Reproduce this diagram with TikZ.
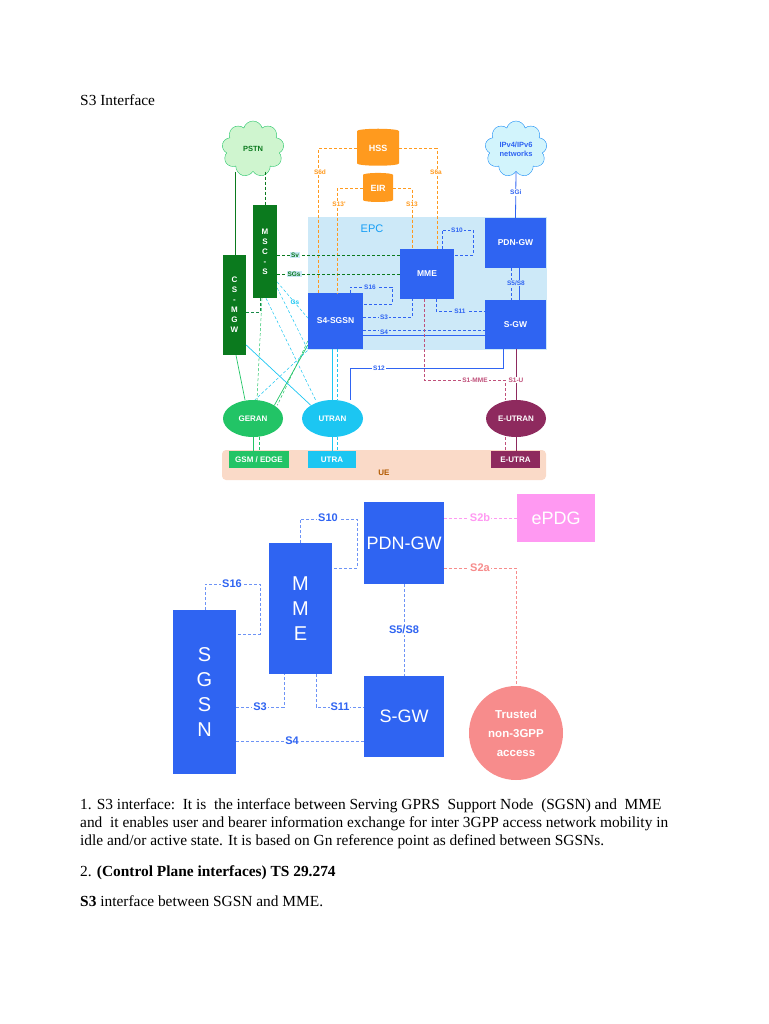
\documentclass[tikz,border=0pt]{standalone}
\usepackage{fontspec}
\setmainfont{Liberation Serif}
\newfontfamily\arl{Liberation Sans}
\usetikzlibrary{shapes.geometric,shapes.symbols,calc}
\definecolor{bl}{HTML}{2F64F2}
\definecolor{dg}{HTML}{0B7A1E}
\definecolor{lgr}{HTML}{CFF5CF}
\definecolor{org}{HTML}{FF9A1E}
\definecolor{epc}{HTML}{CDE9F8}
\definecolor{ger}{HTML}{22C466}
\definecolor{utr}{HTML}{1CC6F2}
\definecolor{eut}{HTML}{8E2A5E}
\definecolor{ue}{HTML}{FADAC8}
\definecolor{pk}{HTML}{FF99F2}
\definecolor{sal}{HTML}{F78C8C}
\definecolor{mg}{HTML}{C0507A}
\begin{document}
\begin{tikzpicture}[x=1pt,y=-1pt,
 box/.style={fill=bl,draw=none,text=white,font=\arl\bfseries\fontsize{8.5}{9}\selectfont,align=center,inner sep=0pt},
 gbox/.style={fill=dg,draw=none,text=white,font=\arl\bfseries\fontsize{8}{10}\selectfont,align=center,inner sep=0pt},
 big/.style={fill=bl,draw=none,text=white,font=\arl\fontsize{18}{21}\selectfont,align=center,inner sep=0pt},
 lab/.style={font=\arl\bfseries\fontsize{6.5}{7}\selectfont,fill=white,inner sep=1pt},
 elab/.style={font=\arl\bfseries\fontsize{6.5}{7}\selectfont,fill=epc,inner sep=1pt},
 blab/.style={font=\arl\bfseries\fontsize{11}{12}\selectfont,fill=white,inner sep=1pt,text=bl},
 sm/.style={text=white,font=\arl\bfseries\fontsize{8}{9}\selectfont,inner sep=0pt},
 dsh/.style={densely dashed,line width=0.5pt},
 body/.style={font=\fontsize{15.4}{18}\selectfont,anchor=base west,inner sep=0pt}]
\useasboundingbox (0,0) rectangle (768,1024);
% ---------- text ----------
\node[body] (title) at (80,106) {S3 Interface};
\node[body] (p1) at (80,809) {1. S3 interface:\ \ It is\ \ the interface between Serving GPRS\ \ Support Node\ \ (SGSN) and\ \ MME};
\node[body] (p2) at (80,827) {and\ \ it enables user and bearer information exchange for inter 3GPP access network mobility in};
\node[body] (p3) at (80,845) {idle and/or active state. It is based on Gn reference point as defined between SGSNs.};
\node[body] (p4) at (80,876) {2. \textbf{(Control Plane interfaces) TS 29.274}};
\node[body] (p5) at (80,906) {\textbf{S3} interface between SGSN and MME.};
% ---------- top diagram ----------
\node[fill=epc,minimum width=239pt,minimum height=133pt,inner sep=0pt] (epcbg) at (427.5,283.5) {};
\node[text=utr!80!blue,font=\arl\fontsize{11}{12}\selectfont] (epcl) at (372,229) {EPC};
\node[fill=ue,rounded corners=4pt,minimum width=324pt,minimum height=30pt,inner sep=0pt] (ue) at (384,465) {};
\node[text=orange!70!black,font=\arl\bfseries\fontsize{8}{8}\selectfont] (uel) at (384,473) {UE};
\node[cloud,cloud puffs=9,aspect=1.1,draw=ger,fill=lgr,minimum width=62pt,minimum height=56pt,font=\arl\bfseries\fontsize{7.5}{8}\selectfont,text=dg] (pstn) at (253,149) {PSTN};
\node[cloud,cloud puffs=9,aspect=1.1,draw=utr!70!blue,fill=utr!20,minimum width=62pt,minimum height=56pt,font=\arl\bfseries\fontsize{7.5}{9}\selectfont,text=bl,align=center,inner sep=0pt] (ipn) at (516,149) {IPv4/IPv6\\networks};
\node[cylinder,shape border rotate=90,aspect=0.25,fill=org,draw=none,minimum width=42pt,minimum height=37pt,sm,font=\arl\bfseries\fontsize{9}{9}\selectfont] (hss) at (378,148.5) {HSS};
\node[cylinder,shape border rotate=90,aspect=0.25,fill=org,draw=none,minimum width=30pt,minimum height=29pt,sm,font=\arl\bfseries\fontsize{9}{9}\selectfont] (eir) at (378,188.5) {EIR};
\node[box,minimum width=61pt,minimum height=50pt] (pdn) at (515.5,243) {PDN-GW};
\node[box,minimum width=54pt,minimum height=50pt] (mme) at (427,274) {MME};
\node[box,minimum width=61pt,minimum height=49pt] (sgw) at (515.5,324.5) {S-GW};
\node[box,minimum width=55pt,minimum height=56pt] (s4) at (335.5,321) {S4-SGSN};
\node[gbox,minimum width=24pt,minimum height=93pt] (msc) at (265,251.5) {M\\S\\C\\-\\S};
\node[gbox,minimum width=23pt,minimum height=100pt] (mgw) at (234.5,305) {C\\S\\-\\M\\G\\W};
\node[ellipse,fill=ger,minimum width=60pt,minimum height=37pt,sm] (geran) at (253,418.5) {GERAN};
\node[ellipse,fill=utr,minimum width=61pt,minimum height=37pt,sm] (utran) at (332.5,418.5) {UTRAN};
\node[ellipse,fill=eut,minimum width=60pt,minimum height=37pt,sm] (eutran) at (516,418.5) {E-UTRAN};
\node[fill=ger,minimum width=60pt,minimum height=17pt,sm] (gsm) at (259,459.5) {GSM / EDGE};
\node[fill=utr,minimum width=48pt,minimum height=17pt,sm] (utra) at (332,459.5) {UTRA};
\node[fill=eut,minimum width=49pt,minimum height=17pt,sm] (eutra) at (515.5,459.5) {E-UTRA};
% orange
\draw[org,dsh] (hss.west) -| (s4.north -| 318,0);
\node[lab,text=org] (s6d) at (320,172) {S6d};
\draw[org,dsh] (hss.east) -| (mme.north -| 437,0);
\node[lab,text=org] (s6a) at (436,172) {S6a};
\draw[org,dsh] (eir.west) -| (s4.north -| 337,0);
\node[lab,text=org] (s13p) at (339,204) {S13'};
\draw[org,dsh] (eir.east) -| (mme.north -| 412,0);
\node[lab,text=org] (s13) at (412,204) {S13};
% green
\draw[dg,line width=0.7pt] (pstn.south -| 235,0) -- (mgw.north -| 235,0);
\draw[dg,dsh] (pstn.south -| 265,0) -- (msc.north);
\draw[dg,dsh] (msc.east |- 0,255) -- (mme.west |- 0,255);
\node[lab,text=dg,fill=epc] (svl) at (295,255) {Sv};
\draw[dg,dsh] (msc.east |- 0,274) -- (mme.west |- 0,274);
\node[lab,text=dg,fill=epc] (sgsl) at (294,274) {SGs};
\draw[ger!70!black,dsh] (mgw.east |- 0,312) -| (msc.south -| 260,0);
\draw[ger,line width=0.7pt] (mgw.south -| 236,0) -- (geran.north -| 245,0);
\draw[ger,dsh] (msc.south -| 262,0) -- (geran.north -| 257,0);
\draw[ger,line width=0.7pt] (s4.west |- 0,345) -- (geran.north east);
\draw[ger,dsh] (s4.west |- 0,341) -- ([xshift=3pt]geran.north east);
% cyan
\draw[utr,line width=0.7pt] (mgw.east |- 0,345) -- (utran.north west);
\draw[utr,dsh] (msc.south -| 266,0) -- ([xshift=-17pt]utran.north);
\draw[utr,dsh] (msc.east |- 0,282) -- (s4.west |- 0,318);
\node[font=\arl\bfseries\fontsize{6.5}{7}\selectfont,text=utr] (gsl) at (295,302) {Gs};
\draw[utr,dsh] (msc.east |- 0,288) -- (308,350) -- ([xshift=2pt]geran.north);
\draw[utr,line width=0.8pt] (s4.south -| 332,0) -- (utran.north -| 332,0);
\draw[utr,dsh] (s4.south -| 337,0) -- (utran.north -| 337,0);
\draw[utr,line width=0.8pt] (utran.south -| 332,0) -- (utra.north -| 332,0);
\draw[utr,dsh] (utran.south -| 337,0) -- (utra.north -| 337,0);
\draw[ger,line width=0.8pt] (geran.south -| 253,0) -- (gsm.north -| 253,0);
\draw[ger,dsh] (geran.south -| 259,0) -- (gsm.north -| 259,0);
% blue
\draw[bl,line width=0.8pt] (ipn.south) -- (pdn.north) node[pos=0.45,lab,text=bl]{SGi};
\draw[bl,dsh] (mme.north -| 442,0) |- (473,230) |- (mme.east |- 0,255);
\node[elab,text=bl] (s10l) at (457,230) {S10};
\draw[bl,dsh] (pdn.south -| 511,0) -- (sgw.north -| 511,0);
\draw[bl,line width=0.8pt] (pdn.south -| 519,0) -- (sgw.north -| 519,0);
\node[elab,text=bl] (s58) at (516,283) {S5/S8};
\draw[bl,dsh] (s4.north -| 350,0) |- (392,287) |- (s4.east |- 0,304);
\node[elab,text=bl] (s16l) at (370,287) {S16};
\draw[bl,dsh] (s4.east |- 0,317) -| (mme.south -| 412,0);
\node[elab,text=bl] (s3l) at (384,317) {S3};
\draw[bl,dsh] (mme.south -| 436,0) |- (sgw.west |- 0,311);
\node[elab,text=bl] (s11l) at (460,311) {S11};
\draw[bl,dsh] (s4.east |- 0,330) -- (sgw.west |- 0,330);
\draw[bl,line width=0.8pt] (s4.east |- 0,335) -- (sgw.west |- 0,335);
\node[elab,text=bl] (s4l) at (384,332) {S4};
\draw[bl,line width=0.8pt] (sgw.south -| 503,0) |- (350,368) -- (utran.north -| 350,0);
\node[lab,text=bl] (s12l) at (379,368) {S12};
% magenta
\draw[mg,dsh] (mme.south -| 424,0) |- (505,380) -- (eutran.north -| 505,0);
\draw[mg,dsh] (eutran.south -| 505,0) -- (eutra.north -| 505,0);
\node[lab,text=mg] (s1m) at (475,380) {S1-MME};
\draw[eut,line width=1pt] (sgw.south -| 516,0) -- (eutran.north);
\node[lab,text=mg] (s1u) at (516,380) {S1-U};
\draw[eut,line width=1pt] (eutran.south) -- (eutra.north -| 516,0);
% ---------- lower diagram ----------
\node[big,minimum width=63pt,minimum height=164pt,font=\arl\fontsize{20}{25}\selectfont] (sgsn) at (204.5,692) {S\\G\\S\\N};
\node[big,minimum width=63pt,minimum height=131pt,font=\arl\fontsize{20}{25}\selectfont] (mme2) at (300.5,608.5) {M\\M\\E};
\node[big,minimum width=80pt,minimum height=82pt] (pdn2) at (404,543) {PDN-GW};
\node[big,minimum width=80pt,minimum height=81pt] (sgw2) at (404,716.5) {S-GW};
\node[fill=pk,minimum width=78pt,minimum height=48pt,inner sep=0pt,text=white,font=\arl\fontsize{18}{21}\selectfont] (epdg) at (556,518) {ePDG};
\node[circle,fill=sal,minimum size=94pt,inner sep=0pt,text=white,align=center,font=\arl\bfseries\fontsize{11.5}{19}\selectfont] (trust) at (516,733) {Trusted\\non-3GPP\\access};
\draw[bl!70,dsh] (mme2.north -| 300,0) |- (357,519) |- (mme2.east |- 0,568);
\node[blab] (s10b) at (328,518) {S10};
\draw[bl!70,dsh] (sgsn.north -| 205,0) |- (260,584) |- (sgsn.east |- 0,634);
\node[blab] (s16b) at (232,584) {S16};
\draw[bl!70,dsh] (sgsn.east |- 0,707) -| (mme2.south -| 284,0);
\node[blab] (s3b) at (260,707) {S3};
\draw[bl!70,dsh] (mme2.south -| 316,0) |- (sgw2.west |- 0,707);
\node[blab] (s11b) at (340,707) {S11};
\draw[bl!70,dsh] (sgsn.east |- 0,741) -- (sgw2.west |- 0,741);
\node[blab] (s4b) at (292,741) {S4};
\draw[bl!70,dsh] (pdn2.south) -- (sgw2.north) node[midway,blab]{S5/S8};
\draw[pk,dsh] (pdn2.east |- 0,518) -- (epdg.west |- 0,518);
\node[blab,text=pk] (s2b) at (480,518) {S2b};
\draw[sal,dsh] (pdn2.east |- 0,568) -| (trust.north);
\node[blab,text=sal] (s2a) at (480,568) {S2a};
\end{tikzpicture}
\end{document}
